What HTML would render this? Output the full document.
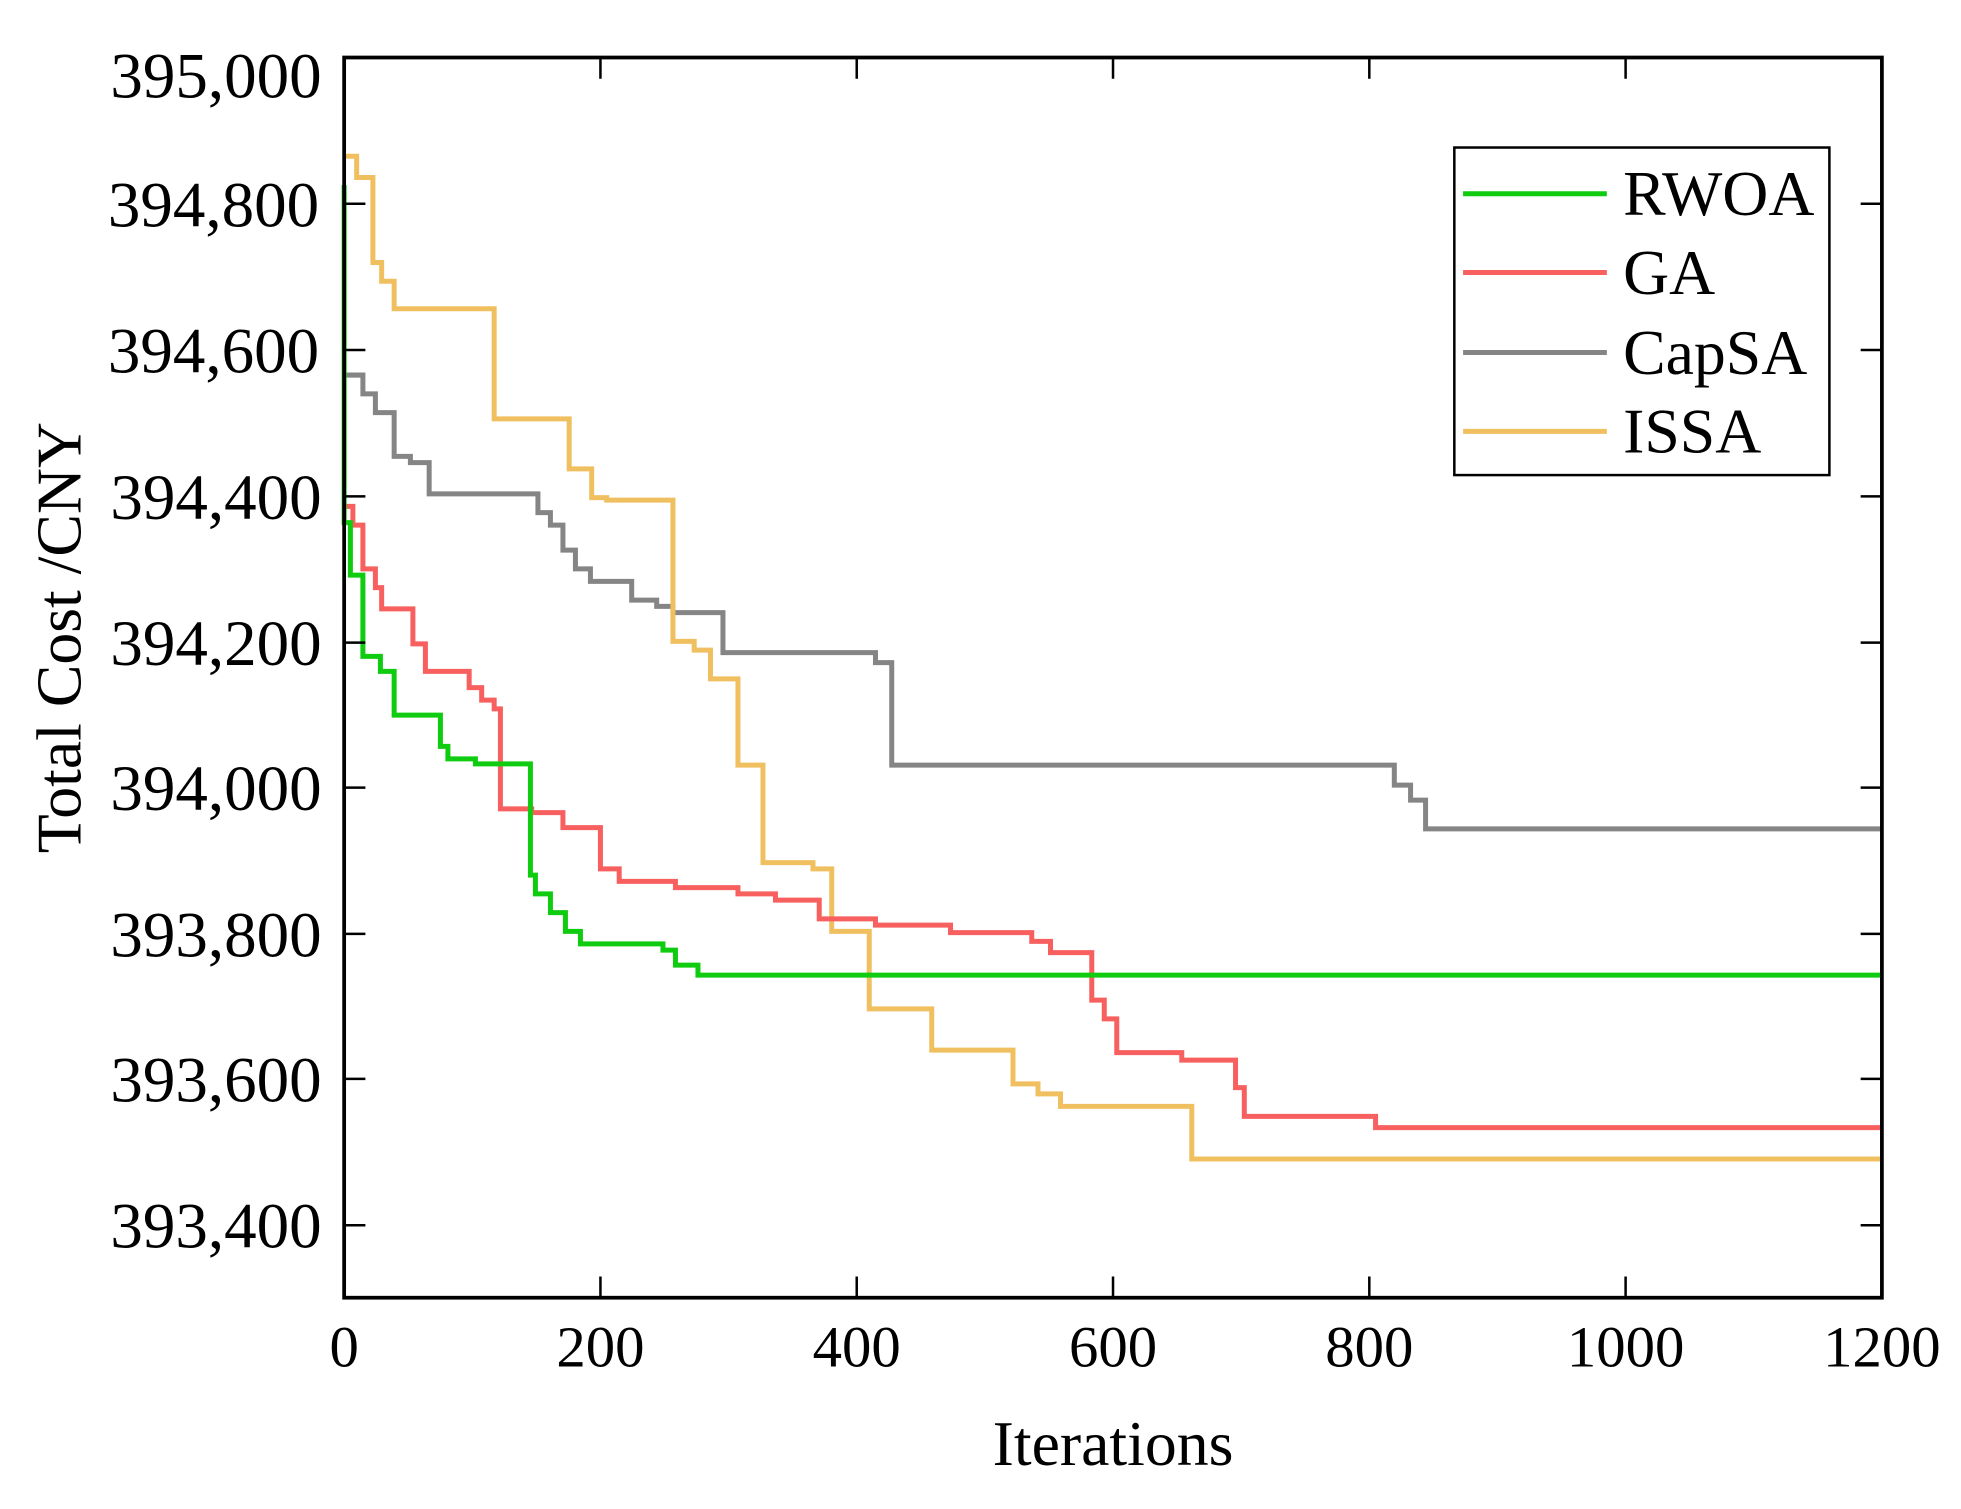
<!DOCTYPE html>
<html><head><meta charset="utf-8"><style>html,body{margin:0;padding:0;background:#fff}svg{display:block}</style></head>
<body>
<svg width="1961" height="1509" viewBox="0 0 1568 1207" xmlns="http://www.w3.org/2000/svg" font-family="Liberation Serif, serif">
<rect width="1568" height="1207" fill="#fff"/>
<g fill="none" stroke-width="4" stroke-linejoin="miter">
<polyline stroke="#858585" points="275,300 290,300 290,315 300,315 300,330 315,330 315,365 328,365 328,370 343,370 343,395 430,395 430,410 440,410 440,420 450,420 450,440 460,440 460,455 472,455 472,465 505,465 505,480 525,480 525,485 538,485 538,490 578,490 578,522 700,522 700,530 713,530 713,612 1115,612 1115,628 1128,628 1128,640 1140,640 1140,663 1505,663"/>
<polyline stroke="#f0c060" points="275,125 285,125 285,142 298,142 298,210 305,210 305,225 315,225 315,247 395,247 395,335 455,335 455,375 473,375 473,398 485,398 485,400 538,400 538,513 555,513 555,520 568,520 568,543 590,543 590,612 610,612 610,690 650,690 650,695 665,695 665,745 695,745 695,807 745,807 745,840 810,840 810,867 830,867 830,875 848,875 848,885 953,885 953,927 1505,927"/>
<polyline stroke="#f86060" points="275,405 282,405 282,420 290,420 290,455 300,455 300,470 305,470 305,487 330,487 330,515 340,515 340,537 375,537 375,550 385,550 385,560 395,560 395,567 400,567 400,647 425,647 425,650 450,650 450,662 480,662 480,695 495,695 495,705 540,705 540,710 590,710 590,715 620,715 620,720 655,720 655,735 700,735 700,740 760,740 760,746 825,746 825,753 840,753 840,762 873,762 873,800 883,800 883,815 893,815 893,842 945,842 945,848 988,848 988,870 995,870 995,893 1100,893 1100,902 1505,902"/>
<polyline stroke="#10cc10" points="275,148 275,418 280,418 280,460 290,460 290,525 304,525 304,537 315,537 315,572 352,572 352,597 358,597 358,607 380,607 380,611 424,611 424,700 428,700 428,715 440,715 440,730 452,730 452,745 464,745 464,755 530,755 530,760 540,760 540,772 558,772 558,780 1505,780"/>
</g>
<rect x="275" y="46" width="1230" height="992" fill="none" stroke="#000" stroke-width="3"/>
<g stroke="#000" stroke-width="2">
<path d="M275,163h17M275,280h17M275,397h17M275,514h17M275,630h17M275,747h17M275,863h17M275,980h17"/>
<path d="M1505,163h-17M1505,280h-17M1505,397h-17M1505,514h-17M1505,630h-17M1505,747h-17M1505,863h-17M1505,980h-17"/>
<path d="M480,1038v-17M685,1038v-17M890,1038v-17M1095,1038v-17M1300,1038v-17"/>
<path d="M480,46v17M685,46v17M890,46v17M1095,46v17M1300,46v17"/>
</g>
<g font-size="52" text-anchor="end" fill="#000">
<text x="257" y="78">395,000</text>
<text x="255" y="181">394,800</text>
<text x="255" y="298">394,600</text>
<text x="257" y="415">394,400</text>
<text x="257" y="532">394,200</text>
<text x="257" y="648">394,000</text>
<text x="257" y="765">393,800</text>
<text x="257" y="881">393,600</text>
<text x="257" y="998">393,400</text>
</g>
<g font-size="47" text-anchor="middle" fill="#000">
<text x="275" y="1093">0</text>
<text x="480" y="1093">200</text>
<text x="685" y="1093">400</text>
<text x="890" y="1093">600</text>
<text x="1095" y="1093">800</text>
<text x="1300" y="1093">1000</text>
<text x="1505" y="1093">1200</text>
</g>
<g font-size="51" text-anchor="middle" fill="#000">
<text x="890" y="1172">Iterations</text>
<text transform="translate(64,510) rotate(-90)">Total Cost /CNY</text>
</g>
<rect x="1163" y="118" width="300" height="262" fill="#fff" stroke="#000" stroke-width="2"/>
<g stroke-width="4">
<line x1="1170" y1="155" x2="1285" y2="155" stroke="#10cc10"/>
<line x1="1170" y1="218" x2="1285" y2="218" stroke="#f86060"/>
<line x1="1170" y1="282" x2="1285" y2="282" stroke="#858585"/>
<line x1="1170" y1="345" x2="1285" y2="345" stroke="#f0c060"/>
</g>
<g font-size="51" fill="#000">
<text x="1298" y="172">RWOA</text>
<text x="1298" y="235">GA</text>
<text x="1298" y="299">CapSA</text>
<text x="1298" y="362">ISSA</text>
</g>
</svg>
</body></html>
